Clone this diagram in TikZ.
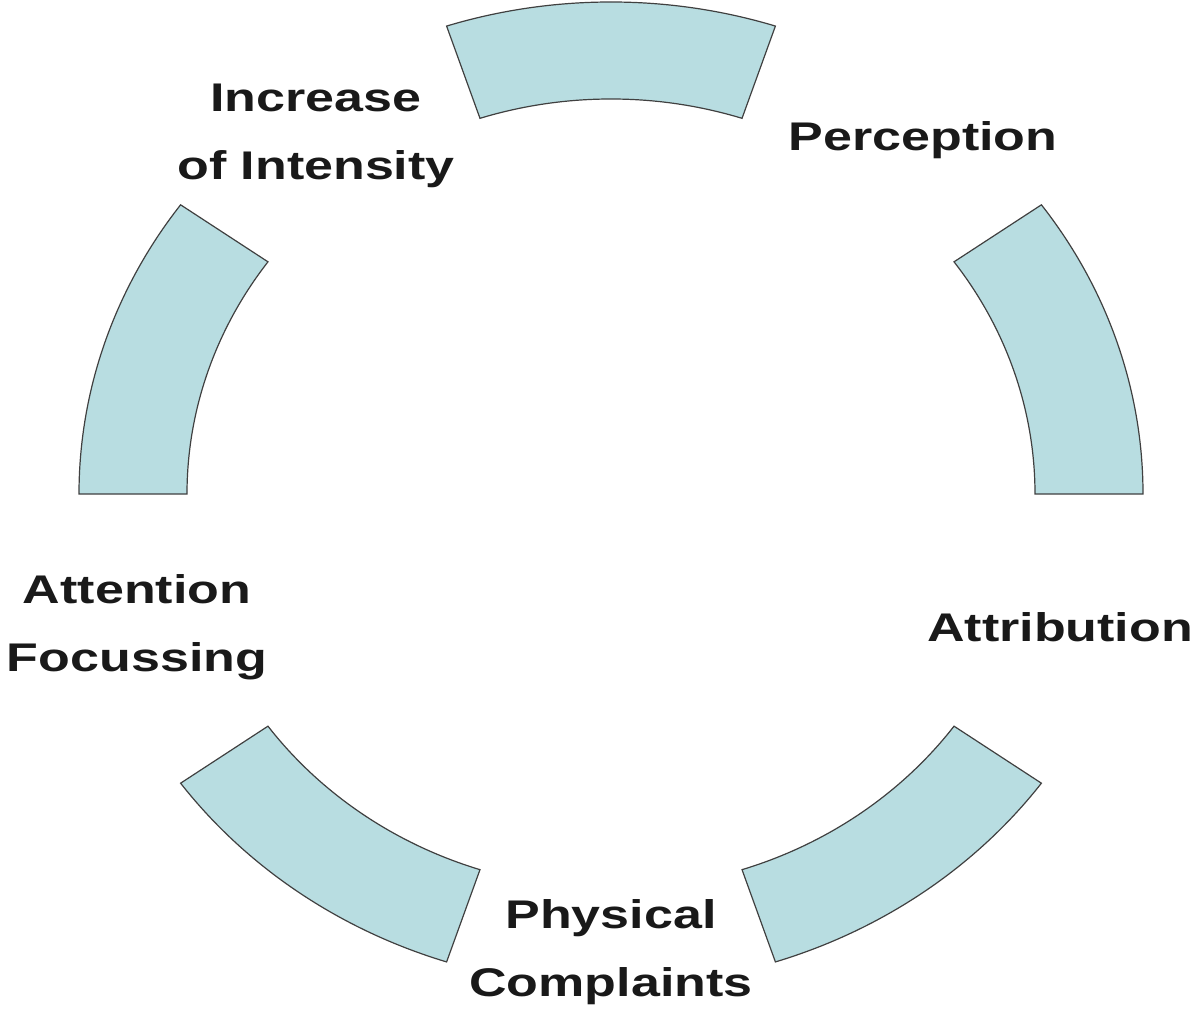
\documentclass[tikz,border=0pt]{standalone}
\usepackage{fontspec}
\setmainfont{Liberation Sans}
\begin{document}
\begin{tikzpicture}[x=1pt,y=1pt,
  seg/.style={fill=segfill,draw=black!75,line width=1.2pt},
  lbl/.style={font=\fontsize{40}{68}\selectfont\bfseries,align=center,text=black!90,inner sep=0pt,xscale=1.3,transform shape}]
\definecolor{segfill}{HTML}{B8DDE1}
\useasboundingbox (0,0) rectangle (1200,-1024);
\foreach \a/\b in {0/36,72/108,144/180,216/252,288/324}{
  \draw[seg] ({611+532*cos(\a)},{-494+492*sin(\a)})
    arc[start angle=\a,end angle=\b,x radius=532,y radius=492]
    -- ({611+424*cos(\b)},{-494+395*sin(\b)})
    arc[start angle=\b,end angle=\a,x radius=424,y radius=395] -- cycle;
}
\node[lbl] (inc) at (316,-136) {Increase\\of Intensity};
\node[lbl] (per) at (923,-140) {Perception};
\node[lbl] (att) at (1060,-627) {Attribution};
\node[lbl] (foc) at (137,-627) {Attention\\Focussing};
\node[lbl] (phy) at (611,-952) {Physical\\Complaints};
\end{tikzpicture}
\end{document}
